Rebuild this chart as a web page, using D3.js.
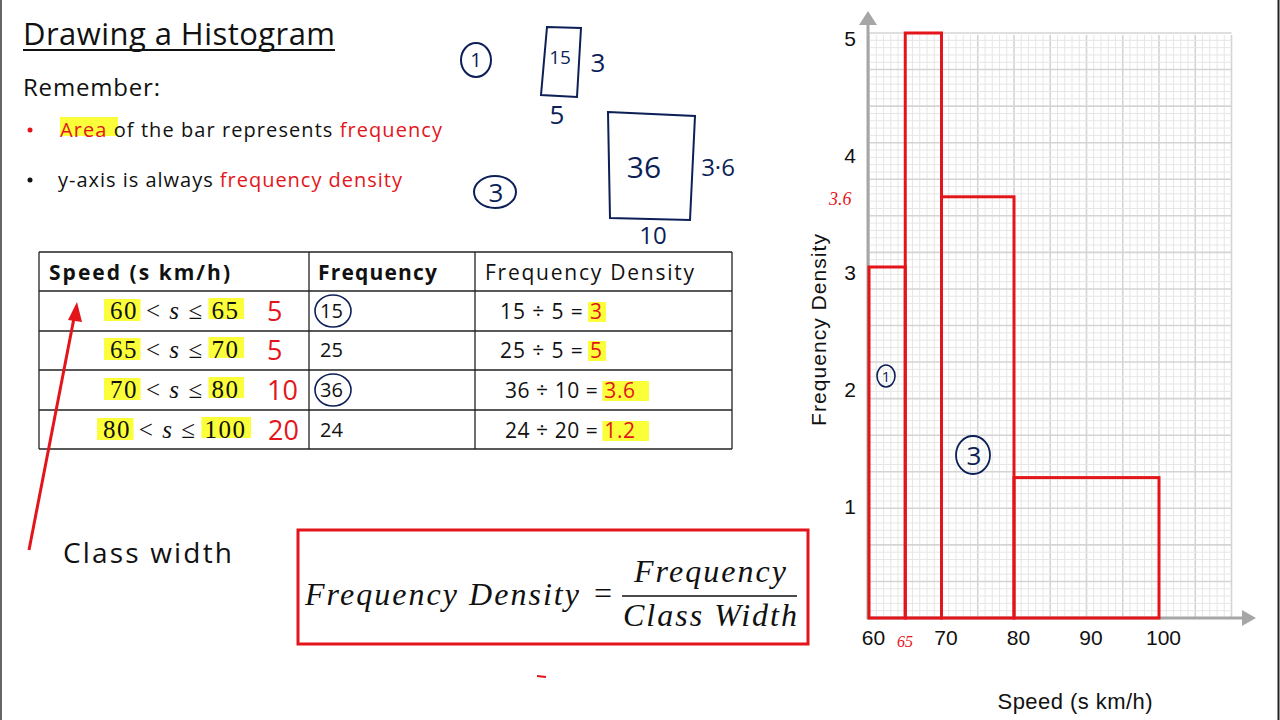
<!DOCTYPE html>
<html><head><meta charset="utf-8">
<script src="https://cdn.jsdelivr.net/npm/d3@7"></script>
<style>
html,body{margin:0;padding:0;background:#fff;}
svg{display:block;}
</style></head>
<body>
<svg id="c" width="1280" height="720"></svg>
<script>
// ---------- data ----------
const classLabels = ["60", "65", "70", "80"];
const classUpper = ["65", "70", "80", "100"];
const lowerBounds = [60, 65, 70, 80];
const upperBounds = [65, 70, 80, 100];
const classWidths = [5, 5, 10, 20];
const frequencies = [15, 25, 36, 24];
const densities = [3, 5, 3.6, 1.2];
const densityText = ["3", "5", "3.6", "1.2"];
const xTicks = [60, 70, 80, 90, 100];
const yTicks = [1, 2, 3, 4, 5];
const circledFreq = [true, false, true, false];

const svg = d3.select("#c");
const RED = "#e3151b", BLUE = "#0c1f57", HL = "#fbff3a";
const sans = "'Open Sans', Lato, sans-serif";
const arial = "'Liberation Sans', Arial, sans-serif";
const serif = "'Liberation Serif', 'Times New Roman', serif";

// frame edges
svg.append("line").attr("x1",1).attr("x2",1).attr("y1",0).attr("y2",720).attr("stroke","#333").attr("stroke-width",1.5);
svg.append("line").attr("x1",1278.5).attr("x2",1278.5).attr("y1",0).attr("y2",720).attr("stroke","#222").attr("stroke-width",2);

// ---------- chart ----------
const x = d3.scaleLinear().domain([60, 100]).range([869, 1159]);
const y = d3.scaleLinear().domain([0, 5]).range([618, 33]);
const gx0 = 60, gx1 = 110;
const grid = svg.append("g");
d3.range(gx0, gx1 + 0.001, 1).forEach((v, i) => {
  grid.append("line").attr("x1", x(v)).attr("x2", x(v)).attr("y1", y(0)).attr("y2", y(5) + 2)
    .attr("stroke", i % 5 === 0 ? "#d4d4d4" : "#e6e6e6").attr("stroke-width", i % 5 === 0 ? 1.6 : 1);
});
d3.range(0, 80.001, 1).forEach((k) => {
  const v = k / 16;
  grid.append("line").attr("x1", x(gx0)).attr("x2", x(gx1)).attr("y1", y(v)).attr("y2", y(v))
    .attr("stroke", k % 5 === 0 ? "#d4d4d4" : "#e6e6e6").attr("stroke-width", k % 5 === 0 ? 1.6 : 1);
});

// axes
const AX = "#a6a6a6";
svg.append("line").attr("x1", 868).attr("x2", 868).attr("y1", y(0) + 1).attr("y2", 24).attr("stroke", AX).attr("stroke-width", 3);
svg.append("path").attr("d", "M859,25 L868,11 L877,25 Z").attr("fill", AX);
svg.append("line").attr("x1", 867).attr("x2", 1243).attr("y1", y(0)).attr("y2", y(0)).attr("stroke", AX).attr("stroke-width", 3);
svg.append("path").attr("d", `M1242,${y(0)-8} L1256,${y(0)} L1242,${y(0)+8} Z`).attr("fill", AX);

// histogram bars
svg.append("g").selectAll("rect").data(densities).join("rect")
  .attr("x", (d, i) => x(lowerBounds[i]))
  .attr("y", d => y(d))
  .attr("width", (d, i) => x(upperBounds[i]) - x(lowerBounds[i]))
  .attr("height", d => y(0) - y(d))
  .attr("fill", "none").attr("stroke", RED).attr("stroke-width", 3);

// axis labels via d3 axes
const xAxis = svg.append("g").attr("transform", `translate(4,${y(0) + 3})`)
  .call(d3.axisBottom(x).tickValues(xTicks).tickSize(0).tickPadding(9));
xAxis.select(".domain").remove();
xAxis.selectAll("text").attr("font-family", arial).attr("font-size", 21).attr("fill", "#111");

const yAxis = svg.append("g").attr("transform", `translate(856,6)`)
  .call(d3.axisLeft(y).tickValues(yTicks).tickFormat(d3.format("d")).tickSize(0).tickPadding(0));
yAxis.select(".domain").remove();
yAxis.selectAll("text").attr("font-family", arial).attr("font-size", 21).attr("fill", "#111");

svg.append("text").attr("transform", "translate(826,330) rotate(-90)").attr("text-anchor", "middle")
  .attr("font-family", arial).attr("font-size", 21).attr("textLength", 192).attr("fill", "#111").text("Frequency Density");
svg.append("text").attr("x", 1075).attr("y", 709).attr("text-anchor", "middle")
  .attr("font-family", arial).attr("font-size", 22).attr("textLength", 155).attr("fill", "#111").text("Speed (s km/h)");

// chart annotations
svg.append("text").attr("x", 829).attr("y", 205).attr("font-family", serif).attr("font-style", "italic")
  .attr("font-size", 18).attr("fill", RED).text(densityText[2]);
svg.append("text").attr("x", 897).attr("y", 647).attr("font-family", serif).attr("font-style", "italic")
  .attr("font-size", 16).attr("fill", RED).text(classUpper[0]);
svg.append("ellipse").attr("cx", 886).attr("cy", 376).attr("rx", 9).attr("ry", 11).attr("fill", "none").attr("stroke", BLUE).attr("stroke-width", 1.6);
svg.append("text").attr("x", 886).attr("y", 382).attr("text-anchor", "middle").attr("font-family", sans).attr("font-size", 15).attr("fill", BLUE).text("1");
svg.append("ellipse").attr("cx", 973).attr("cy", 455).attr("rx", 17).attr("ry", 19).attr("fill", "none").attr("stroke", BLUE).attr("stroke-width", 1.8);
svg.append("text").attr("x", 974).attr("y", 465).attr("text-anchor", "middle").attr("font-family", sans).attr("font-size", 26).attr("fill", BLUE).text("3");

// ---------- left text ----------
svg.append("text").attr("x", 23).attr("y", 45).attr("font-family", sans).attr("font-size", 31).attr("textLength", 312).attr("fill", "#111").text("Drawing a Histogram");
svg.append("line").attr("x1", 23).attr("x2", 335).attr("y1", 50).attr("y2", 50).attr("stroke", "#111").attr("stroke-width", 2);
svg.append("text").attr("x", 23).attr("y", 96).attr("font-family", sans).attr("font-size", 24).attr("textLength", 137).attr("fill", "#111").text("Remember:");

svg.append("circle").attr("cx", 30).attr("cy", 130).attr("r", 2.5).attr("fill", RED);
svg.append("rect").attr("x", 60).attr("y", 117).attr("width", 58).attr("height", 19).attr("fill", HL);
const b1 = svg.append("text").attr("x", 60).attr("y", 137).attr("font-family", sans).attr("font-size", 20).attr("textLength", 382).attr("fill", "#111");
b1.append("tspan").attr("fill", RED).text("Area");
b1.append("tspan").text(" of the bar represents ");
b1.append("tspan").attr("fill", RED).text("frequency");

svg.append("circle").attr("cx", 30).attr("cy", 180).attr("r", 2.5).attr("fill", "#111");
const b2 = svg.append("text").attr("x", 58).attr("y", 187).attr("font-family", sans).attr("font-size", 20).attr("textLength", 344).attr("fill", "#111");
b2.append("tspan").text("y-axis is always ");
b2.append("tspan").attr("fill", RED).text("frequency density");

// ---------- hand sketches top ----------
const hand = svg.append("g").attr("fill", "none").attr("stroke", BLUE).attr("stroke-width", 2);
hand.append("ellipse").attr("cx", 476).attr("cy", 60).attr("rx", 15).attr("ry", 17);
hand.append("path").attr("d", "M547,27 L581,28 L577,97 L541,95 Z");
hand.append("path").attr("d", "M608,112 L695,116 L690,220 L610,218 Z");
hand.append("ellipse").attr("cx", 495).attr("cy", 192).attr("rx", 21).attr("ry", 16);
const ht = svg.append("g").attr("font-family", sans).attr("fill", BLUE).attr("text-anchor", "middle");
ht.append("text").attr("x", 476).attr("y", 67).attr("font-size", 20).text("1");
ht.append("text").attr("x", 560).attr("y", 64).attr("font-size", 19).text(String(frequencies[0]));
ht.append("text").attr("x", 598).attr("y", 72).attr("font-size", 26).text(densityText[0]);
ht.append("text").attr("x", 557).attr("y", 124).attr("font-size", 26).text(String(classWidths[0]));
ht.append("text").attr("x", 644).attr("y", 178).attr("font-size", 30).text(String(frequencies[2]));
ht.append("text").attr("x", 718).attr("y", 176).attr("font-size", 24).text("3·6");
ht.append("text").attr("x", 653).attr("y", 244).attr("font-size", 24).text(String(classWidths[2]));
ht.append("text").attr("x", 496).attr("y", 202).attr("font-size", 26).text("3");

// ---------- table ----------
const colX = [39, 309, 475, 732];
const rowY = [252, 291, 331, 370, 410, 449];
const tbl = svg.append("g");
tbl.selectAll("line.h").data(rowY).join("line").attr("x1", colX[0]).attr("x2", colX[3])
  .attr("y1", d => d).attr("y2", d => d).attr("stroke", "#222").attr("stroke-width", 1.3);
tbl.selectAll("line.v").data(colX).join("line").attr("y1", rowY[0]).attr("y2", rowY[5])
  .attr("x1", d => d).attr("x2", d => d).attr("stroke", "#222").attr("stroke-width", 1.3);
tbl.append("text").attr("x", 49).attr("y", 280).attr("font-family", sans).attr("font-weight", "bold").attr("font-size", 21).attr("textLength", 181).attr("fill", "#111").text("Speed (s km/h)");
tbl.append("text").attr("x", 318).attr("y", 280).attr("font-family", sans).attr("font-weight", "bold").attr("font-size", 21).attr("textLength", 119).attr("fill", "#111").text("Frequency");
tbl.append("text").attr("x", 485).attr("y", 280).attr("font-family", sans).attr("font-size", 21).attr("textLength", 209).attr("fill", "#111").text("Frequency Density");

const rowMid = [311, 350, 390, 430];
const mathX = [110, 110, 110, 103];
const mathLen = [128, 128, 128, 142];
const cwX = [267, 267, 267, 268];
const densX = [500, 500, 505, 505];
const densLen = [96, 96, 112, 112];
frequencies.forEach((f, i) => {
  const cy = rowMid[i];
  const mx = mathX[i];
  const t = tbl.append("text").attr("x", mx).attr("y", cy + 8).attr("font-family", serif).attr("font-size", 25)
    .attr("textLength", mathLen[i]).attr("fill", "#111");
  const lo = t.append("tspan").text(classLabels[i]);
  t.append("tspan").text(" < ");
  t.append("tspan").attr("font-style", "italic").text("s");
  t.append("tspan").text(" ≤ ");
  const up = t.append("tspan").text(classUpper[i]);
  const n = t.node();
  const lx0 = n.getStartPositionOfChar(0).x;
  const lx1 = n.getEndPositionOfChar(classLabels[i].length - 1).x;
  const total = n.getNumberOfChars();
  const ux0 = n.getStartPositionOfChar(total - classUpper[i].length).x;
  const ux1 = n.getEndPositionOfChar(total - 1).x;
  tbl.insert("rect", "text").attr("x", lx0 - 6).attr("y", cy - 12).attr("width", lx1 - lx0 + 10).attr("height", 22).attr("fill", HL);
  tbl.insert("rect", "text").attr("x", ux0 - 3).attr("y", cy - 13).attr("width", ux1 - ux0 + 9).attr("height", 21).attr("fill", HL);
  tbl.append("text").attr("x", cwX[i]).attr("y", cy + 10).attr("font-family", sans).attr("font-size", 27).attr("fill", RED).text(String(classWidths[i]));
  tbl.append("text").attr("x", 320).attr("y", cy + 7).attr("font-family", sans).attr("font-size", 20).attr("fill", "#111").text(String(f));
  if (circledFreq[i]) tbl.append("ellipse").attr("cx", 333).attr("cy", cy).attr("rx", 18).attr("ry", 16).attr("fill", "none").attr("stroke", BLUE).attr("stroke-width", 1.6);
  const dt = tbl.append("text").attr("x", densX[i]).attr("y", cy + 8).attr("font-family", sans).attr("font-size", 21)
    .attr("textLength", densLen[i] + densityText[i].length * 6).attr("fill", "#111");
  dt.append("tspan").text(`${f} ÷ ${classWidths[i]} = `);
  dt.append("tspan").attr("fill", RED).text(densityText[i]);
  const dn = dt.node();
  const dc = dn.getNumberOfChars();
  const rx0 = dn.getStartPositionOfChar(dc - densityText[i].length).x;
  const rx1 = dn.getEndPositionOfChar(dc - 1).x;
  tbl.insert("rect", "text").attr("x", rx0 - 2).attr("y", cy - 9).attr("width", rx1 - rx0 + (i >= 2 ? 16 : 6)).attr("height", 20).attr("fill", HL);
});

// red arrow
svg.append("line").attr("x1", 29).attr("y1", 550).attr("x2", 74).attr("y2", 318).attr("stroke", RED).attr("stroke-width", 3);
svg.append("path").attr("d", "M77,302 L68,320 L82,322 Z").attr("fill", RED);
svg.append("text").attr("x", 63).attr("y", 563).attr("font-family", sans).attr("font-size", 28).attr("textLength", 169).attr("fill", "#111").text("Class width");

// formula box
svg.append("rect").attr("x", 298).attr("y", 530).attr("width", 510).attr("height", 114).attr("fill", "none").attr("stroke", RED).attr("stroke-width", 3);
const ff = svg.append("g").attr("font-family", serif).attr("font-style", "italic").attr("fill", "#111");
ff.append("text").attr("x", 305).attr("y", 605).attr("font-size", 32).attr("textLength", 274).text("Frequency Density");
ff.append("text").attr("x", 603).attr("y", 604).attr("font-size", 32).attr("font-style", "normal").attr("text-anchor", "middle").text("=");
ff.append("text").attr("x", 710).attr("y", 582).attr("font-size", 32).attr("text-anchor", "middle").attr("textLength", 152).text("Frequency");
ff.append("text").attr("x", 710).attr("y", 626).attr("font-size", 32).attr("text-anchor", "middle").attr("textLength", 174).text("Class Width");
svg.append("line").attr("x1", 622).attr("x2", 797).attr("y1", 596).attr("y2", 596).attr("stroke", "#111").attr("stroke-width", 1.6);
svg.append("line").attr("x1", 537).attr("x2", 546).attr("y1", 676).attr("y2", 677).attr("stroke", RED).attr("stroke-width", 2);
</script>
</body></html>
